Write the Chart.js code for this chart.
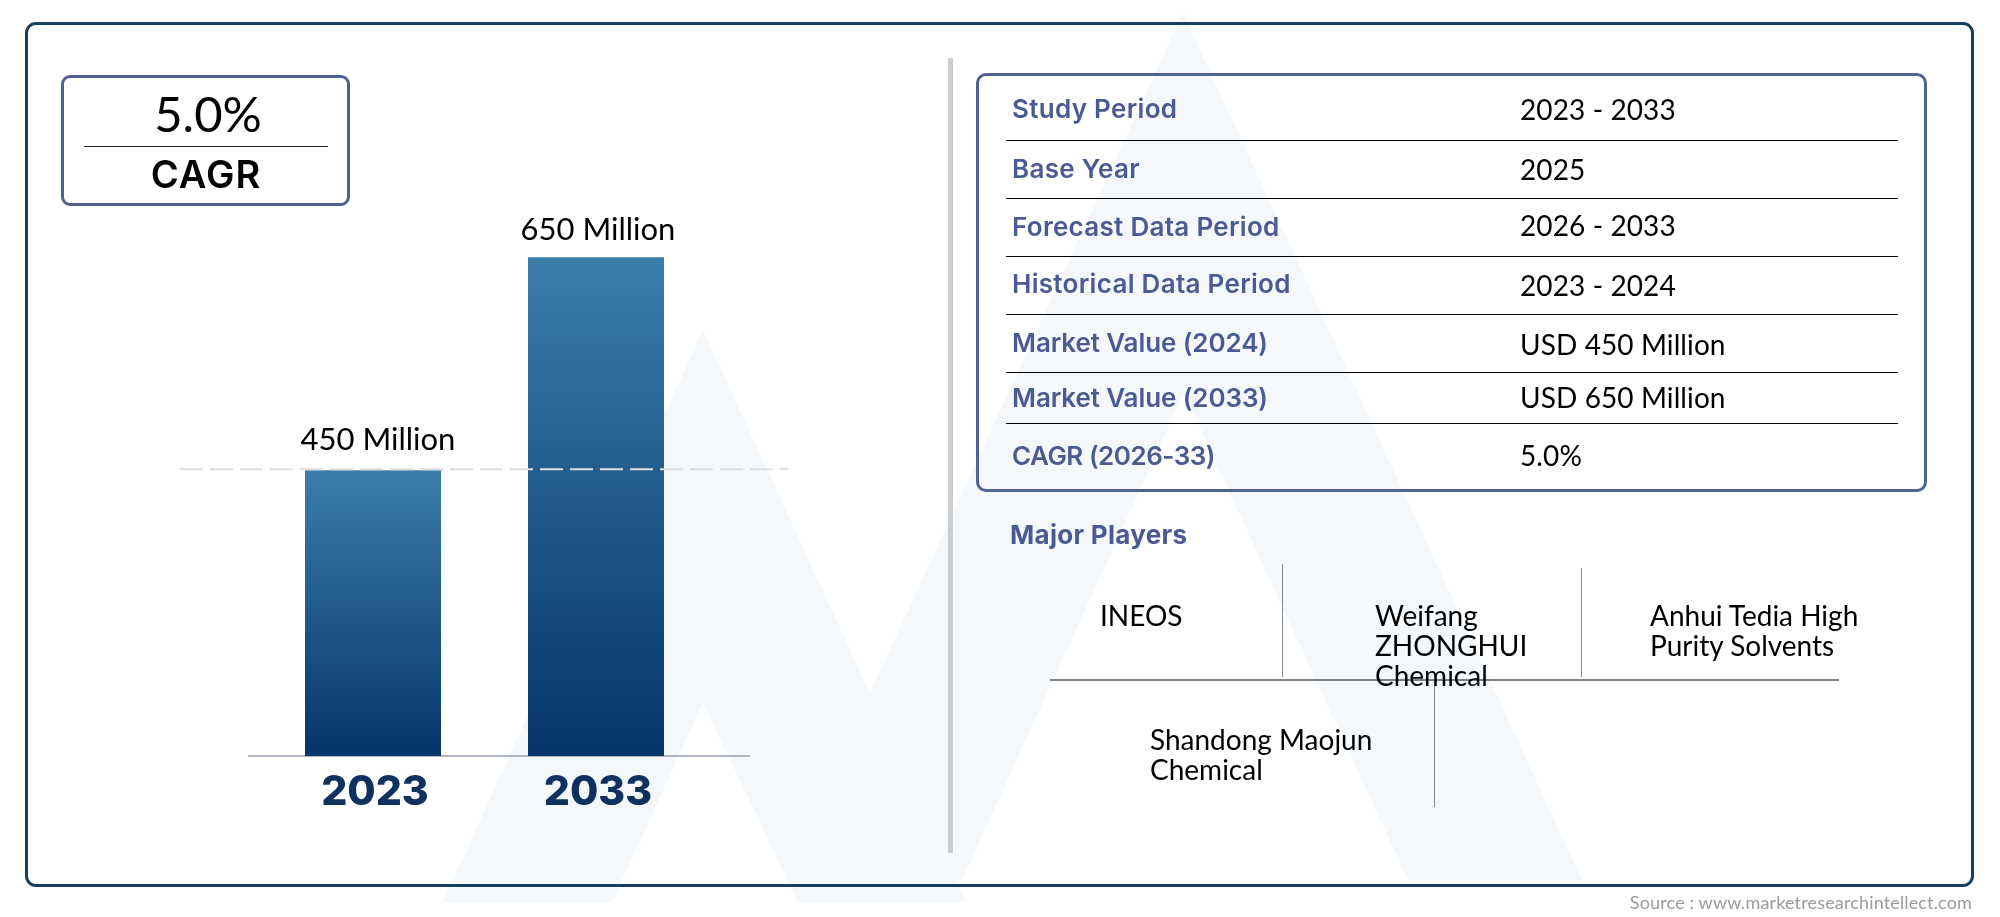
<!DOCTYPE html>
<html lang="en">
<head>
<meta charset="utf-8">
<title>Market overview</title>
<script src="https://cdn.jsdelivr.net/npm/chart.js@4"></script>
<style>
  html, body { margin: 0; padding: 0; background: #fff; }
  #page { position: relative; width: 2000px; height: 917px; overflow: hidden; font-family: Lato, sans-serif; color: #000; }
  #page > * { position: absolute; }
  #watermark { left: 0; top: 0; }
  #grafico { left: 0; top: 0; }
  .frame { left: 25px; top: 22px; width: 1943px; height: 859px; border: 3px solid #173f5f; border-radius: 11px; }
  .cagr-box { left: 61px; top: 75px; width: 283px; height: 125px; border: 3px solid #4f6292; border-radius: 9px; }
  .cagr-rule { left: 84px; top: 146px; width: 244px; height: 1px; background: #222; }
  .divider { left: 948px; top: 58px; width: 5px; height: 795px; background: #cbcdce; }
  .table-box { left: 976px; top: 73px; width: 945px; height: 413px; border: 3px solid #4f6292; border-radius: 10px; }
  .rule { left: 1006px; width: 892px; height: 1px; background: #000; }
  .gridline { background: #83888e; width: 1px; }
  .hline { background: #7d8288; height: 1.5px; }
  .t { white-space: nowrap; line-height: 1; transform: translateY(-50%); }
  .head { font-family: Inter, sans-serif; font-weight: 600; color: #4a5b94; font-size: 26px; letter-spacing: 0.3px; }
  .val { font-size: 28px; letter-spacing: 0.1px; }
  .player { font-size: 28px; line-height: 30px; white-space: pre; }
  .source { right: 28px; top: 902px; font-size: 18px; letter-spacing: 0.15px; color: #9b9b9b; }
</style>
</head>
<body>
<div id="page">
  <svg id="watermark" width="2000" height="917">
    <g fill="#f5f8fb">
      <path d="M703 330 L443 902 L612 902 L703 703 L798 902 L966 902 Z"/>
      <path d="M1183 13 L784 880 L962 880 L1184 393 L1408 880 L1582 880 Z"/>
    </g>
  </svg>
  <canvas id="grafico" width="2000" height="917"></canvas>
  <div class="frame"></div>
  <div class="cagr-box"></div>
  <div class="cagr-rule"></div>
  <div class="t" style="left:208px;top:113px;transform:translate(-50%,-50%);font-size:49px">5.0%</div>
  <div class="t" style="left:206px;top:174px;transform:translate(-50%,-50%);font-family:Inter,sans-serif;font-weight:600;font-size:38px;letter-spacing:1px">CAGR</div>
  <div class="divider"></div>
  <div class="table-box"></div>
  <div class="t head" style="left:1010px;top:535px;font-weight:700;font-size:26px">Major Players</div>
  <div class="gridline" style="left:1282px;top:564px;height:113px"></div>
  <div class="gridline" style="left:1581px;top:568px;height:109px"></div>
  <div class="hline" style="left:1050px;top:679px;width:789px"></div>
  <div class="gridline" style="left:1434px;top:680px;height:127px"></div>
  <div class="t source">Source : www.marketresearchintellect.com</div>
</div>

<script>
/* ===== dados ===== */
const years = ["2023", "2033"];
const marketValues = [450, 650];
const valueLabels = ["450 Million", "650 Million"];
const referenceValue = 450;

const studyLabels = ["Study Period", "Base Year", "Forecast Data Period", "Historical Data Period",
  "Market Value (2024)", "Market Value (2033)", "CAGR (2026-33)"];
const studyValues = ["2023 - 2033", "2025", "2026 - 2033", "2023 - 2024",
  "USD 450 Million", "USD 650 Million", "5.0%"];
const players = ["INEOS", "Weifang\nZHONGHUI\nChemical", "Anhui Tedia High\nPurity Solvents", "Shandong Maojun\nChemical"];

/* ===== layout ===== */
// the bars in the picture are not zero based, so the axis starts above 0
const yMin = 181.5;
const yMax = 700;
const labelRowY = [109, 169, 227, 284, 343, 398, 456];
const labelSpacing = [0.3, 0.3, 0.3, 0.3, -0.1, -0.1, -0.5];
const valueRowY = [109, 169, 225, 285, 344, 397, 455];
const ruleY = [140, 198, 256, 314, 372, 423];
const labelShiftX = [5, 2];
const labelShiftY = [-30, -27];
const playerPos = [[1100, 600], [1375, 600], [1650, 600], [1150, 724]];

const page = document.getElementById("page");

function addDiv(cls, css, text) {
  const el = document.createElement("div");
  el.className = cls;
  el.style.cssText = css;
  if (text) el.textContent = text;
  page.appendChild(el);
}

studyLabels.forEach((s, i) => addDiv("t head", `left:1012px;top:${labelRowY[i]}px;letter-spacing:${labelSpacing[i]}px`, s));
studyValues.forEach((s, i) => addDiv("t val", `left:1520px;top:${valueRowY[i]}px`, s));
ruleY.forEach(y => addDiv("rule", `top:${y}px`));
players.forEach((s, i) => addDiv("player", `left:${playerPos[i][0]}px;top:${playerPos[i][1]}px`, s));

/* ===== plugins ===== */
const baseLine = {
  id: "baseLine",
  beforeDatasetsDraw(chart) {
    const { ctx, scales: { y } } = chart;
    ctx.save();
    ctx.strokeStyle = "#99a1ac";
    ctx.lineWidth = 1.5;
    ctx.beginPath();
    ctx.moveTo(248, y.bottom);
    ctx.lineTo(750, y.bottom);
    ctx.stroke();
    ctx.restore();
  }
};

const refLine = {
  id: "refLine",
  afterDatasetsDraw(chart) {
    const { ctx, scales: { y } } = chart;
    const py = y.getPixelForValue(referenceValue) - 1;
    ctx.save();
    ctx.strokeStyle = "#dcdee0";
    ctx.lineWidth = 2;
    ctx.setLineDash([23, 7]);
    ctx.beginPath();
    ctx.moveTo(180, py);
    ctx.lineTo(788, py);
    ctx.stroke();
    ctx.restore();
  }
};

const barLabels = {
  id: "barLabels",
  afterDatasetsDraw(chart) {
    const { ctx } = chart;
    ctx.save();
    ctx.font = "31px Lato, sans-serif";
    ctx.fillStyle = "#000";
    ctx.textAlign = "center";
    ctx.textBaseline = "middle";
    chart.getDatasetMeta(0).data.forEach((bar, i) => {
      ctx.fillText(valueLabels[i], bar.x + labelShiftX[i], bar.y + labelShiftY[i]);
    });
    ctx.restore();
  }
};

function barGradient(context) {
  const { chart, raw } = context;
  if (!chart.chartArea || raw === undefined) return "#1f5a8c";
  const y = chart.scales.y;
  const g = chart.ctx.createLinearGradient(0, y.getPixelForValue(raw), 0, y.bottom);
  g.addColorStop(0, "#3b7dab");
  g.addColorStop(1, "#06356b");
  return g;
}

new Chart(document.getElementById("grafico"), {
  type: "bar",
  data: {
    labels: years,
    datasets: [{
      data: marketValues,
      backgroundColor: barGradient,
      borderWidth: 0,
      barPercentage: 0.61,
      categoryPercentage: 1
    }]
  },
  options: {
    responsive: false,
    animation: false,
    layout: { padding: { left: 261.5, right: 1292.5, top: 204, bottom: 81 } },
    plugins: { legend: { display: false }, tooltip: { enabled: false } },
    scales: {
      x: {
        grid: { display: false },
        border: { display: false },
        afterFit: s => { s.height = 80; },
        ticks: {
          padding: 4,
          labelOffset: 2,
          color: "#0e3160",
          font: { family: "Inter, sans-serif", weight: "800", size: 41 }
        }
      },
      y: { display: false, min: yMin, max: yMax }
    }
  },
  plugins: [baseLine, refLine, barLabels]
});
</script>
</body>
</html>
